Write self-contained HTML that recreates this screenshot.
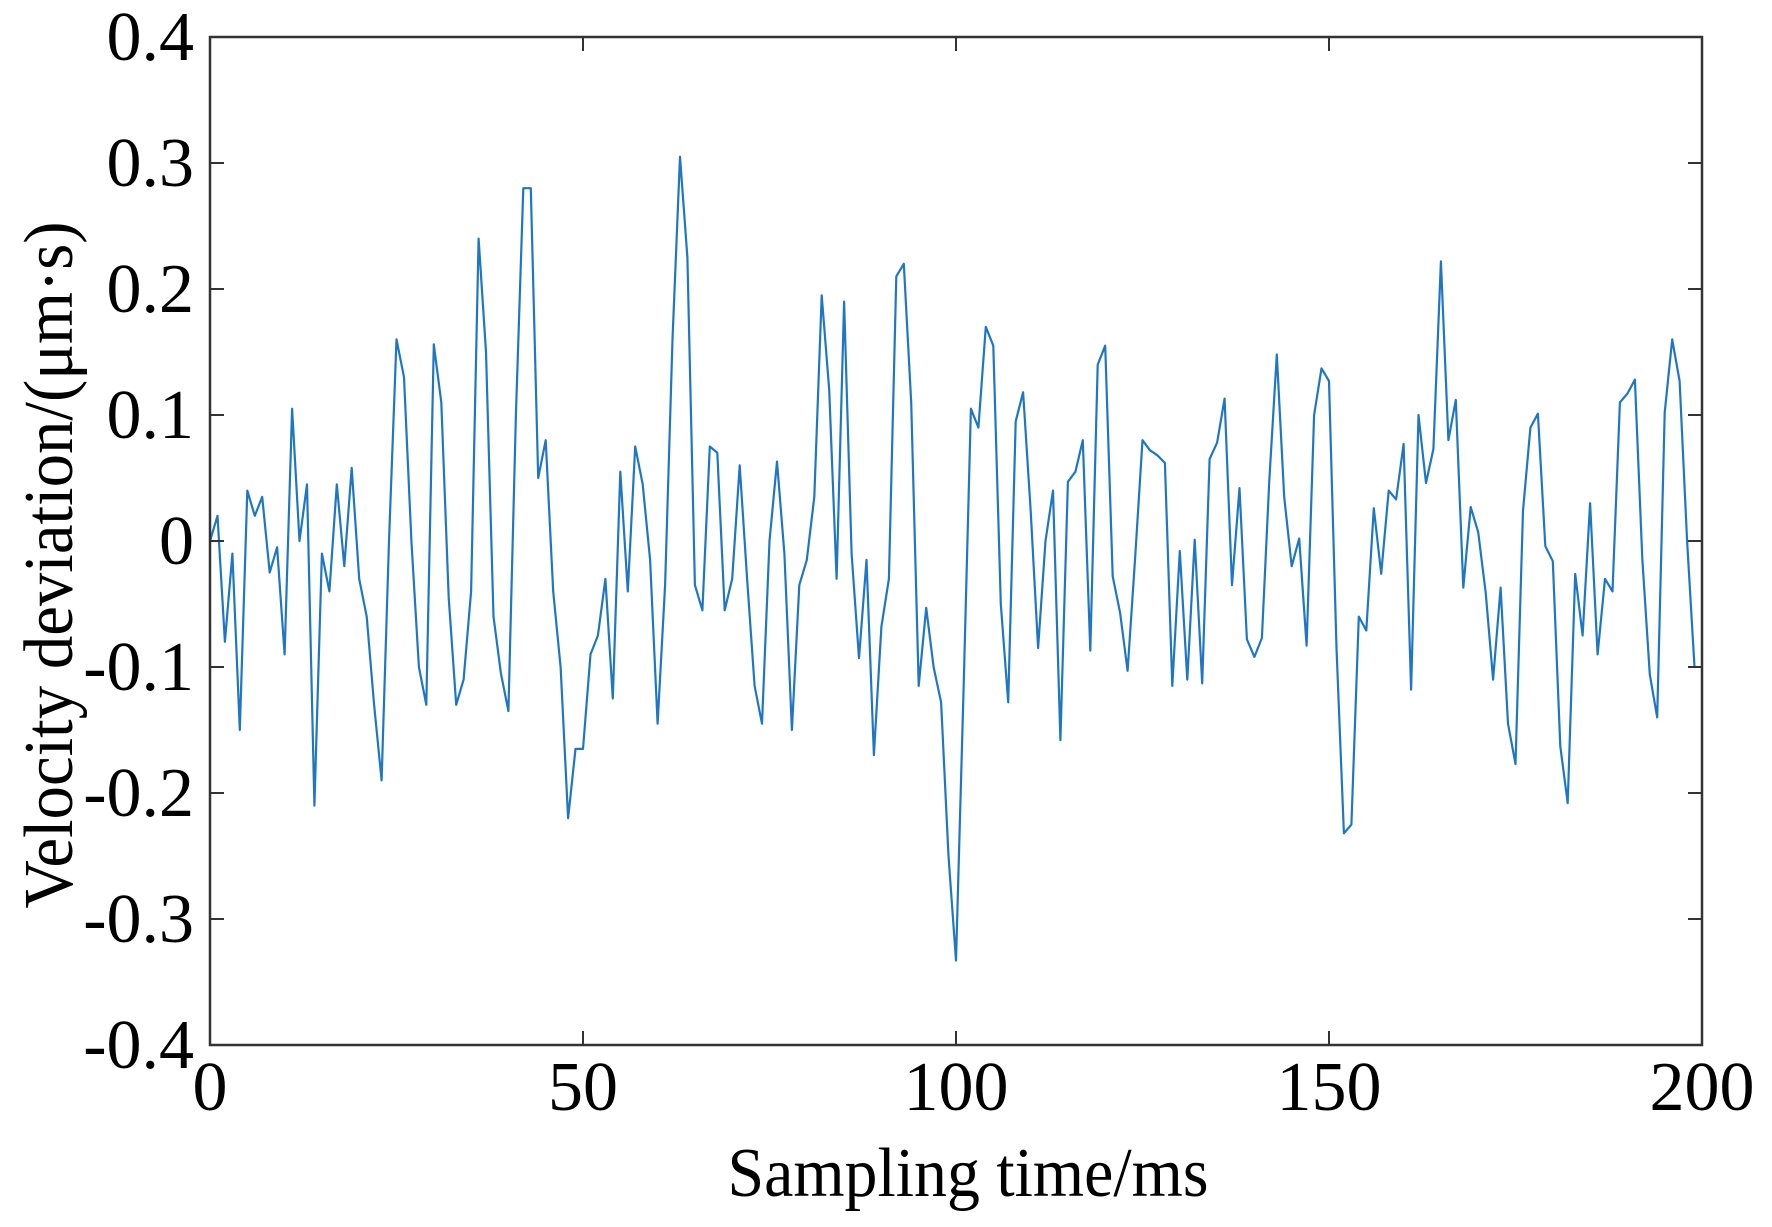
<!DOCTYPE html>
<html><head><meta charset="utf-8"><style>
html,body{margin:0;padding:0;background:#fff;}
svg{display:block;}
text{font-family:"Liberation Serif",serif;fill:#000;}
</style></head><body>
<svg id="s" width="1772" height="1227" xmlns="http://www.w3.org/2000/svg">
<rect x="0" y="0" width="1772" height="1227" fill="#fff"/>
<polyline id="ln" fill="none" stroke="#1f77c4" stroke-width="2.2" stroke-linejoin="round" points=""/>
<rect x="210" y="37" width="1492" height="1008" fill="none" stroke="#333" stroke-width="2.5"/>
<g id="ticks" stroke="#333" stroke-width="2"></g>
<g id="labs" font-size="70"></g>
<text x="968" y="1196" font-size="70" text-anchor="middle" textLength="481" lengthAdjust="spacingAndGlyphs">Sampling time/ms</text>
<text transform="translate(72,565) rotate(-90)" font-size="70" text-anchor="middle" textLength="687" lengthAdjust="spacingAndGlyphs">Velocity deviation/(μm·s)</text>
</svg>
<script>
var v=[0,0.02,-0.08,-0.01,-0.15,0.04,0.02,0.035,-0.025,-0.005,-0.09,0.105,0,0.045,-0.21,-0.01,-0.04,0.045,-0.02,0.058,-0.03,-0.06,-0.13,-0.19,0,0.16,0.13,0,-0.1,-0.13,0.156,0.11,-0.045,-0.13,-0.11,-0.04,0.24,0.15,-0.06,-0.105,-0.135,0.1,0.28,0.28,0.05,0.08,-0.04,-0.1,-0.22,-0.165,-0.165,-0.09,-0.075,-0.03,-0.125,0.055,-0.04,0.075,0.045,-0.015,-0.145,-0.035,0.16,0.305,0.225,-0.035,-0.055,0.075,0.07,-0.055,-0.03,0.06,-0.03,-0.115,-0.145,0,0.063,-0.01,-0.15,-0.035,-0.015,0.035,0.195,0.12,-0.03,0.19,-0.01,-0.093,-0.015,-0.17,-0.068,-0.03,0.21,0.22,0.11,-0.115,-0.053,-0.1,-0.128,-0.25,-0.333,-0.12,0.105,0.09,0.17,0.155,-0.05,-0.128,0.095,0.118,0.025,-0.085,0,0.04,-0.158,0.047,0.055,0.08,-0.087,0.14,0.155,-0.028,-0.057,-0.103,-0.015,0.08,0.072,0.068,0.062,-0.115,-0.008,-0.11,0.001,-0.113,0.065,0.078,0.113,-0.035,0.042,-0.078,-0.092,-0.077,0.048,0.148,0.035,-0.02,0.002,-0.083,0.1,0.137,0.127,-0.085,-0.232,-0.225,-0.06,-0.071,0.026,-0.026,0.04,0.033,0.077,-0.118,0.1,0.046,0.073,0.222,0.08,0.112,-0.037,0.027,0.007,-0.041,-0.11,-0.037,-0.145,-0.177,0.024,0.09,0.101,-0.004,-0.016,-0.163,-0.208,-0.026,-0.075,0.03,-0.09,-0.03,-0.04,0.11,0.117,0.128,-0.014,-0.106,-0.14,0.102,0.16,0.127,0,-0.1];
var L=210,R=1702,Z=541,S=1260,px=(R-L)/200;
var p=[];for(var i=0;i<v.length;i++){p.push((L+i*px).toFixed(1)+","+(Z-v[i]*S).toFixed(1));}
document.getElementById("ln").setAttribute("points",p.join(" "));
var t="",l="";
for(var k=0;k<=4;k++){var x=L+k*50*px;t+='<line x1="'+x+'" y1="1045" x2="'+x+'" y2="1031"/><line x1="'+x+'" y1="37" x2="'+x+'" y2="51"/>';
l+='<text x="'+x+'" y="1110" text-anchor="middle">'+(k*50)+'</text>';}
for(var k=-4;k<=4;k++){var y=Z-k*126;t+='<line x1="210" y1="'+y+'" x2="224" y2="'+y+'"/><line x1="1702" y1="'+y+'" x2="1688" y2="'+y+'"/>';
var s=k==0?"0":(k<0?"-0."+(-k):"0."+k);
l+='<text x="194" y="'+(y+23)+'" text-anchor="end">'+s+'</text>';}
document.getElementById("ticks").innerHTML=t;
document.getElementById("labs").innerHTML=l;
</script>
</body></html>
